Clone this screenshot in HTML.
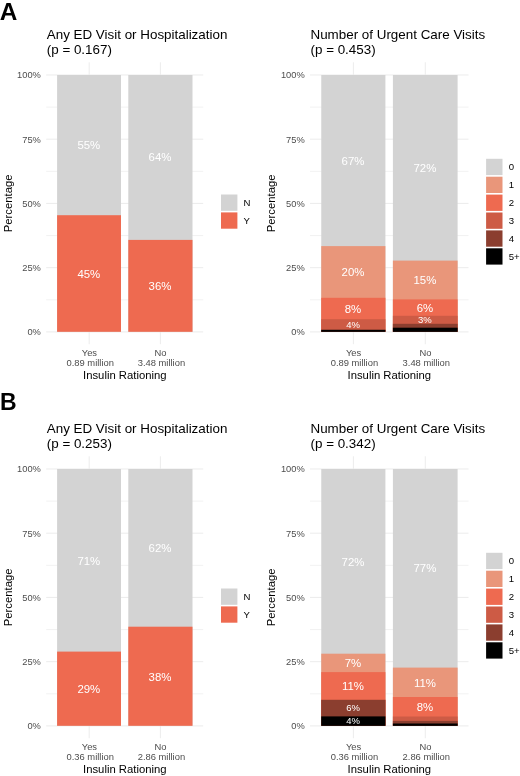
<!DOCTYPE html><html><head><meta charset="utf-8"><title>Figure</title><style>html,body{margin:0;padding:0;background:#fff}svg{display:block}text{font-family:"Liberation Sans",sans-serif}</style></head><body>
<svg width="520" height="776" viewBox="0 0 520 776">
<rect width="520" height="776" fill="#fff"/>
<text transform="translate(-0.3,20) scale(1.06,1)" font-size="23" font-weight="bold" fill="#000">A</text>
<text x="46.75" y="39.2" font-size="13.4" fill="#000">Any ED Visit or Hospitalization</text>
<text x="46.75" y="54.2" font-size="13.4" fill="#000">(p = 0.167)</text>
<text x="310.5" y="39.2" font-size="13.4" fill="#000">Number of Urgent Care Visits</text>
<text x="310.5" y="54.2" font-size="13.4" fill="#000">(p = 0.453)</text>
<line x1="46.2" x2="203.2" y1="331.90" y2="331.90" stroke="#EBEBEB" stroke-width="0.95"/>
<line x1="46.2" x2="203.2" y1="267.67" y2="267.67" stroke="#EBEBEB" stroke-width="0.95"/>
<line x1="46.2" x2="203.2" y1="203.45" y2="203.45" stroke="#EBEBEB" stroke-width="0.95"/>
<line x1="46.2" x2="203.2" y1="139.22" y2="139.22" stroke="#EBEBEB" stroke-width="0.95"/>
<line x1="46.2" x2="203.2" y1="75.00" y2="75.00" stroke="#EBEBEB" stroke-width="0.95"/>
<line x1="46.2" x2="203.2" y1="299.79" y2="299.79" stroke="#EBEBEB" stroke-width="0.65"/>
<line x1="46.2" x2="203.2" y1="235.56" y2="235.56" stroke="#EBEBEB" stroke-width="0.65"/>
<line x1="46.2" x2="203.2" y1="171.34" y2="171.34" stroke="#EBEBEB" stroke-width="0.65"/>
<line x1="46.2" x2="203.2" y1="107.11" y2="107.11" stroke="#EBEBEB" stroke-width="0.65"/>
<line x1="89.2" x2="89.2" y1="62.3" y2="344.2" stroke="#EBEBEB" stroke-width="0.95"/>
<line x1="160.4" x2="160.4" y1="62.3" y2="344.2" stroke="#EBEBEB" stroke-width="0.95"/>
<text x="40.9" y="335.20" text-anchor="end" font-size="9.3" fill="#4D4D4D">0%</text>
<text x="40.9" y="270.97" text-anchor="end" font-size="9.3" fill="#4D4D4D">25%</text>
<text x="40.9" y="206.75" text-anchor="end" font-size="9.3" fill="#4D4D4D">50%</text>
<text x="40.9" y="142.53" text-anchor="end" font-size="9.3" fill="#4D4D4D">75%</text>
<text x="40.9" y="78.30" text-anchor="end" font-size="9.3" fill="#4D4D4D">100%</text>
<line x1="310.0" x2="468.5" y1="331.90" y2="331.90" stroke="#EBEBEB" stroke-width="0.95"/>
<line x1="310.0" x2="468.5" y1="267.67" y2="267.67" stroke="#EBEBEB" stroke-width="0.95"/>
<line x1="310.0" x2="468.5" y1="203.45" y2="203.45" stroke="#EBEBEB" stroke-width="0.95"/>
<line x1="310.0" x2="468.5" y1="139.22" y2="139.22" stroke="#EBEBEB" stroke-width="0.95"/>
<line x1="310.0" x2="468.5" y1="75.00" y2="75.00" stroke="#EBEBEB" stroke-width="0.95"/>
<line x1="310.0" x2="468.5" y1="299.79" y2="299.79" stroke="#EBEBEB" stroke-width="0.65"/>
<line x1="310.0" x2="468.5" y1="235.56" y2="235.56" stroke="#EBEBEB" stroke-width="0.65"/>
<line x1="310.0" x2="468.5" y1="171.34" y2="171.34" stroke="#EBEBEB" stroke-width="0.65"/>
<line x1="310.0" x2="468.5" y1="107.11" y2="107.11" stroke="#EBEBEB" stroke-width="0.65"/>
<line x1="353.4" x2="353.4" y1="62.3" y2="344.2" stroke="#EBEBEB" stroke-width="0.95"/>
<line x1="425.3" x2="425.3" y1="62.3" y2="344.2" stroke="#EBEBEB" stroke-width="0.95"/>
<text x="304.7" y="335.20" text-anchor="end" font-size="9.3" fill="#4D4D4D">0%</text>
<text x="304.7" y="270.97" text-anchor="end" font-size="9.3" fill="#4D4D4D">25%</text>
<text x="304.7" y="206.75" text-anchor="end" font-size="9.3" fill="#4D4D4D">50%</text>
<text x="304.7" y="142.53" text-anchor="end" font-size="9.3" fill="#4D4D4D">75%</text>
<text x="304.7" y="78.30" text-anchor="end" font-size="9.3" fill="#4D4D4D">100%</text>
<text transform="translate(12.4,203.4) rotate(-90)" text-anchor="middle" font-size="11.3" fill="#000">Percentage</text>
<text transform="translate(275.3,203.4) rotate(-90)" text-anchor="middle" font-size="11.3" fill="#000">Percentage</text>
<text x="124.8" y="379.2" text-anchor="middle" font-size="11.3" fill="#000">Insulin Rationing</text>
<text x="389.3" y="379.2" text-anchor="middle" font-size="11.3" fill="#000">Insulin Rationing</text>
<text x="89.4" y="356.4" text-anchor="middle" font-size="9.4" fill="#4D4D4D">Yes</text>
<text x="90.2" y="366.3" text-anchor="middle" font-size="9.4" fill="#4D4D4D">0.89 million</text>
<text x="160.6" y="356.4" text-anchor="middle" font-size="9.4" fill="#4D4D4D">No</text>
<text x="161.4" y="366.3" text-anchor="middle" font-size="9.4" fill="#4D4D4D">3.48 million</text>
<text x="353.59999999999997" y="356.4" text-anchor="middle" font-size="9.4" fill="#4D4D4D">Yes</text>
<text x="354.4" y="366.3" text-anchor="middle" font-size="9.4" fill="#4D4D4D">0.89 million</text>
<text x="425.5" y="356.4" text-anchor="middle" font-size="9.4" fill="#4D4D4D">No</text>
<text x="426.3" y="366.3" text-anchor="middle" font-size="9.4" fill="#4D4D4D">3.48 million</text>
<rect x="221" y="194.50" width="16.4" height="16.3" fill="#D3D3D3"/>
<text x="243.6" y="206.00" font-size="9.6" fill="#000">N</text>
<rect x="221" y="212.40" width="16.4" height="16.3" fill="#EE6A50"/>
<text x="243.6" y="223.90" font-size="9.6" fill="#000">Y</text>
<rect x="486.1" y="158.80" width="16.4" height="16.3" fill="#D3D3D3"/>
<text x="508.7" y="170.30" font-size="9.6" fill="#000">0</text>
<rect x="486.1" y="176.70" width="16.4" height="16.3" fill="#E9967A"/>
<text x="508.7" y="188.20" font-size="9.6" fill="#000">1</text>
<rect x="486.1" y="194.60" width="16.4" height="16.3" fill="#EE6A50"/>
<text x="508.7" y="206.10" font-size="9.6" fill="#000">2</text>
<rect x="486.1" y="212.50" width="16.4" height="16.3" fill="#CD5B45"/>
<text x="508.7" y="224.00" font-size="9.6" fill="#000">3</text>
<rect x="486.1" y="230.40" width="16.4" height="16.3" fill="#8B3E2F"/>
<text x="508.7" y="241.90" font-size="9.6" fill="#000">4</text>
<rect x="486.1" y="248.30" width="16.4" height="16.3" fill="#000000"/>
<text x="508.7" y="259.80" font-size="9.6" fill="#000">5+</text>
<rect x="57.1" y="75.00" width="63.90" height="256.80" fill="#D3D3D3"/>
<rect x="57.1" y="215.20" width="63.90" height="116.60" fill="#EE6A50"/>
<rect x="128.3" y="75.00" width="64.20" height="256.80" fill="#D3D3D3"/>
<rect x="128.3" y="239.90" width="64.20" height="91.90" fill="#EE6A50"/>
<text x="88.80" y="149.10" text-anchor="middle" font-size="11.4" fill="#fff">55%</text>
<text x="88.80" y="277.90" text-anchor="middle" font-size="11.4" fill="#fff">45%</text>
<text x="160.00" y="161.40" text-anchor="middle" font-size="11.4" fill="#fff">64%</text>
<text x="160.00" y="289.90" text-anchor="middle" font-size="11.4" fill="#fff">36%</text>
<rect x="321.25" y="75.00" width="64.15" height="256.80" fill="#D3D3D3"/>
<rect x="321.25" y="246.10" width="64.15" height="85.70" fill="#E9967A"/>
<rect x="321.25" y="297.80" width="64.15" height="34.00" fill="#EE6A50"/>
<rect x="321.25" y="319.20" width="64.15" height="12.60" fill="#CD5B45"/>
<rect x="321.25" y="329.60" width="64.15" height="2.20" fill="#8B3E2F"/>
<rect x="321.25" y="329.90" width="64.15" height="1.90" fill="#000000"/>
<rect x="392.9" y="75.00" width="64.70" height="256.80" fill="#D3D3D3"/>
<rect x="392.9" y="260.60" width="64.70" height="71.20" fill="#E9967A"/>
<rect x="392.9" y="299.40" width="64.70" height="32.40" fill="#EE6A50"/>
<rect x="392.9" y="315.80" width="64.70" height="16.00" fill="#CD5B45"/>
<rect x="392.9" y="323.80" width="64.70" height="8.00" fill="#8B3E2F"/>
<rect x="392.9" y="327.70" width="64.70" height="4.10" fill="#000000"/>
<text x="353.00" y="164.70" text-anchor="middle" font-size="11.4" fill="#fff">67%</text>
<text x="353.00" y="276.10" text-anchor="middle" font-size="11.4" fill="#fff">20%</text>
<text x="353.00" y="312.60" text-anchor="middle" font-size="11.4" fill="#fff">8%</text>
<text x="353.00" y="327.62" text-anchor="middle" font-size="9.5" fill="#fff">4%</text>
<text x="424.90" y="171.80" text-anchor="middle" font-size="11.4" fill="#fff">72%</text>
<text x="424.90" y="283.90" text-anchor="middle" font-size="11.4" fill="#fff">15%</text>
<text x="424.90" y="311.80" text-anchor="middle" font-size="11.4" fill="#fff">6%</text>
<text x="424.90" y="322.72" text-anchor="middle" font-size="9.5" fill="#fff">3%</text>
<text transform="translate(0.1,410.3) scale(1.0,1)" font-size="23" font-weight="bold" fill="#000">B</text>
<text x="46.75" y="433.2" font-size="13.4" fill="#000">Any ED Visit or Hospitalization</text>
<text x="46.75" y="448.2" font-size="13.4" fill="#000">(p = 0.253)</text>
<text x="310.5" y="433.2" font-size="13.4" fill="#000">Number of Urgent Care Visits</text>
<text x="310.5" y="448.2" font-size="13.4" fill="#000">(p = 0.342)</text>
<line x1="46.2" x2="203.2" y1="725.90" y2="725.90" stroke="#EBEBEB" stroke-width="0.95"/>
<line x1="46.2" x2="203.2" y1="661.67" y2="661.67" stroke="#EBEBEB" stroke-width="0.95"/>
<line x1="46.2" x2="203.2" y1="597.45" y2="597.45" stroke="#EBEBEB" stroke-width="0.95"/>
<line x1="46.2" x2="203.2" y1="533.23" y2="533.23" stroke="#EBEBEB" stroke-width="0.95"/>
<line x1="46.2" x2="203.2" y1="469.00" y2="469.00" stroke="#EBEBEB" stroke-width="0.95"/>
<line x1="46.2" x2="203.2" y1="693.79" y2="693.79" stroke="#EBEBEB" stroke-width="0.65"/>
<line x1="46.2" x2="203.2" y1="629.56" y2="629.56" stroke="#EBEBEB" stroke-width="0.65"/>
<line x1="46.2" x2="203.2" y1="565.34" y2="565.34" stroke="#EBEBEB" stroke-width="0.65"/>
<line x1="46.2" x2="203.2" y1="501.11" y2="501.11" stroke="#EBEBEB" stroke-width="0.65"/>
<line x1="89.2" x2="89.2" y1="456.3" y2="738.2" stroke="#EBEBEB" stroke-width="0.95"/>
<line x1="160.4" x2="160.4" y1="456.3" y2="738.2" stroke="#EBEBEB" stroke-width="0.95"/>
<text x="40.9" y="729.20" text-anchor="end" font-size="9.3" fill="#4D4D4D">0%</text>
<text x="40.9" y="664.97" text-anchor="end" font-size="9.3" fill="#4D4D4D">25%</text>
<text x="40.9" y="600.75" text-anchor="end" font-size="9.3" fill="#4D4D4D">50%</text>
<text x="40.9" y="536.52" text-anchor="end" font-size="9.3" fill="#4D4D4D">75%</text>
<text x="40.9" y="472.30" text-anchor="end" font-size="9.3" fill="#4D4D4D">100%</text>
<line x1="310.0" x2="468.5" y1="725.90" y2="725.90" stroke="#EBEBEB" stroke-width="0.95"/>
<line x1="310.0" x2="468.5" y1="661.67" y2="661.67" stroke="#EBEBEB" stroke-width="0.95"/>
<line x1="310.0" x2="468.5" y1="597.45" y2="597.45" stroke="#EBEBEB" stroke-width="0.95"/>
<line x1="310.0" x2="468.5" y1="533.23" y2="533.23" stroke="#EBEBEB" stroke-width="0.95"/>
<line x1="310.0" x2="468.5" y1="469.00" y2="469.00" stroke="#EBEBEB" stroke-width="0.95"/>
<line x1="310.0" x2="468.5" y1="693.79" y2="693.79" stroke="#EBEBEB" stroke-width="0.65"/>
<line x1="310.0" x2="468.5" y1="629.56" y2="629.56" stroke="#EBEBEB" stroke-width="0.65"/>
<line x1="310.0" x2="468.5" y1="565.34" y2="565.34" stroke="#EBEBEB" stroke-width="0.65"/>
<line x1="310.0" x2="468.5" y1="501.11" y2="501.11" stroke="#EBEBEB" stroke-width="0.65"/>
<line x1="353.4" x2="353.4" y1="456.3" y2="738.2" stroke="#EBEBEB" stroke-width="0.95"/>
<line x1="425.3" x2="425.3" y1="456.3" y2="738.2" stroke="#EBEBEB" stroke-width="0.95"/>
<text x="304.7" y="729.20" text-anchor="end" font-size="9.3" fill="#4D4D4D">0%</text>
<text x="304.7" y="664.97" text-anchor="end" font-size="9.3" fill="#4D4D4D">25%</text>
<text x="304.7" y="600.75" text-anchor="end" font-size="9.3" fill="#4D4D4D">50%</text>
<text x="304.7" y="536.52" text-anchor="end" font-size="9.3" fill="#4D4D4D">75%</text>
<text x="304.7" y="472.30" text-anchor="end" font-size="9.3" fill="#4D4D4D">100%</text>
<text transform="translate(12.4,597.4) rotate(-90)" text-anchor="middle" font-size="11.3" fill="#000">Percentage</text>
<text transform="translate(275.3,597.4) rotate(-90)" text-anchor="middle" font-size="11.3" fill="#000">Percentage</text>
<text x="124.8" y="773.2" text-anchor="middle" font-size="11.3" fill="#000">Insulin Rationing</text>
<text x="389.3" y="773.2" text-anchor="middle" font-size="11.3" fill="#000">Insulin Rationing</text>
<text x="89.4" y="750.4" text-anchor="middle" font-size="9.4" fill="#4D4D4D">Yes</text>
<text x="90.2" y="760.3" text-anchor="middle" font-size="9.4" fill="#4D4D4D">0.36 million</text>
<text x="160.6" y="750.4" text-anchor="middle" font-size="9.4" fill="#4D4D4D">No</text>
<text x="161.4" y="760.3" text-anchor="middle" font-size="9.4" fill="#4D4D4D">2.86 million</text>
<text x="353.59999999999997" y="750.4" text-anchor="middle" font-size="9.4" fill="#4D4D4D">Yes</text>
<text x="354.4" y="760.3" text-anchor="middle" font-size="9.4" fill="#4D4D4D">0.36 million</text>
<text x="425.5" y="750.4" text-anchor="middle" font-size="9.4" fill="#4D4D4D">No</text>
<text x="426.3" y="760.3" text-anchor="middle" font-size="9.4" fill="#4D4D4D">2.86 million</text>
<rect x="221" y="588.50" width="16.4" height="16.3" fill="#D3D3D3"/>
<text x="243.6" y="600.00" font-size="9.6" fill="#000">N</text>
<rect x="221" y="606.40" width="16.4" height="16.3" fill="#EE6A50"/>
<text x="243.6" y="617.90" font-size="9.6" fill="#000">Y</text>
<rect x="486.1" y="552.80" width="16.4" height="16.3" fill="#D3D3D3"/>
<text x="508.7" y="564.30" font-size="9.6" fill="#000">0</text>
<rect x="486.1" y="570.70" width="16.4" height="16.3" fill="#E9967A"/>
<text x="508.7" y="582.20" font-size="9.6" fill="#000">1</text>
<rect x="486.1" y="588.60" width="16.4" height="16.3" fill="#EE6A50"/>
<text x="508.7" y="600.10" font-size="9.6" fill="#000">2</text>
<rect x="486.1" y="606.50" width="16.4" height="16.3" fill="#CD5B45"/>
<text x="508.7" y="618.00" font-size="9.6" fill="#000">3</text>
<rect x="486.1" y="624.40" width="16.4" height="16.3" fill="#8B3E2F"/>
<text x="508.7" y="635.90" font-size="9.6" fill="#000">4</text>
<rect x="486.1" y="642.30" width="16.4" height="16.3" fill="#000000"/>
<text x="508.7" y="653.80" font-size="9.6" fill="#000">5+</text>
<rect x="57.1" y="469.00" width="63.90" height="256.80" fill="#D3D3D3"/>
<rect x="57.1" y="651.60" width="63.90" height="74.20" fill="#EE6A50"/>
<rect x="128.3" y="469.00" width="64.20" height="256.80" fill="#D3D3D3"/>
<rect x="128.3" y="626.70" width="64.20" height="99.10" fill="#EE6A50"/>
<text x="88.80" y="564.90" text-anchor="middle" font-size="11.4" fill="#fff">71%</text>
<text x="88.80" y="693.20" text-anchor="middle" font-size="11.4" fill="#fff">29%</text>
<text x="160.00" y="552.10" text-anchor="middle" font-size="11.4" fill="#fff">62%</text>
<text x="160.00" y="680.90" text-anchor="middle" font-size="11.4" fill="#fff">38%</text>
<rect x="321.25" y="469.00" width="64.15" height="256.80" fill="#D3D3D3"/>
<rect x="321.25" y="653.70" width="64.15" height="72.10" fill="#E9967A"/>
<rect x="321.25" y="672.10" width="64.15" height="53.70" fill="#EE6A50"/>
<rect x="321.25" y="699.70" width="64.15" height="26.10" fill="#CD5B45"/>
<rect x="321.25" y="699.90" width="64.15" height="25.90" fill="#8B3E2F"/>
<rect x="321.25" y="716.40" width="64.15" height="9.40" fill="#000000"/>
<rect x="392.9" y="469.00" width="64.70" height="256.80" fill="#D3D3D3"/>
<rect x="392.9" y="667.60" width="64.70" height="58.20" fill="#E9967A"/>
<rect x="392.9" y="697.00" width="64.70" height="28.80" fill="#EE6A50"/>
<rect x="392.9" y="716.50" width="64.70" height="9.30" fill="#CD5B45"/>
<rect x="392.9" y="720.90" width="64.70" height="4.90" fill="#8B3E2F"/>
<rect x="392.9" y="723.50" width="64.70" height="2.30" fill="#000000"/>
<text x="353.00" y="565.70" text-anchor="middle" font-size="11.4" fill="#fff">72%</text>
<text x="353.00" y="666.80" text-anchor="middle" font-size="11.4" fill="#fff">7%</text>
<text x="353.00" y="690.00" text-anchor="middle" font-size="11.4" fill="#fff">11%</text>
<text x="353.00" y="711.32" text-anchor="middle" font-size="9.5" fill="#fff">6%</text>
<text x="353.00" y="724.32" text-anchor="middle" font-size="9.5" fill="#fff">4%</text>
<text x="424.90" y="572.40" text-anchor="middle" font-size="11.4" fill="#fff">77%</text>
<text x="424.90" y="686.70" text-anchor="middle" font-size="11.4" fill="#fff">11%</text>
<text x="424.90" y="710.60" text-anchor="middle" font-size="11.4" fill="#fff">8%</text>
</svg></body></html>
